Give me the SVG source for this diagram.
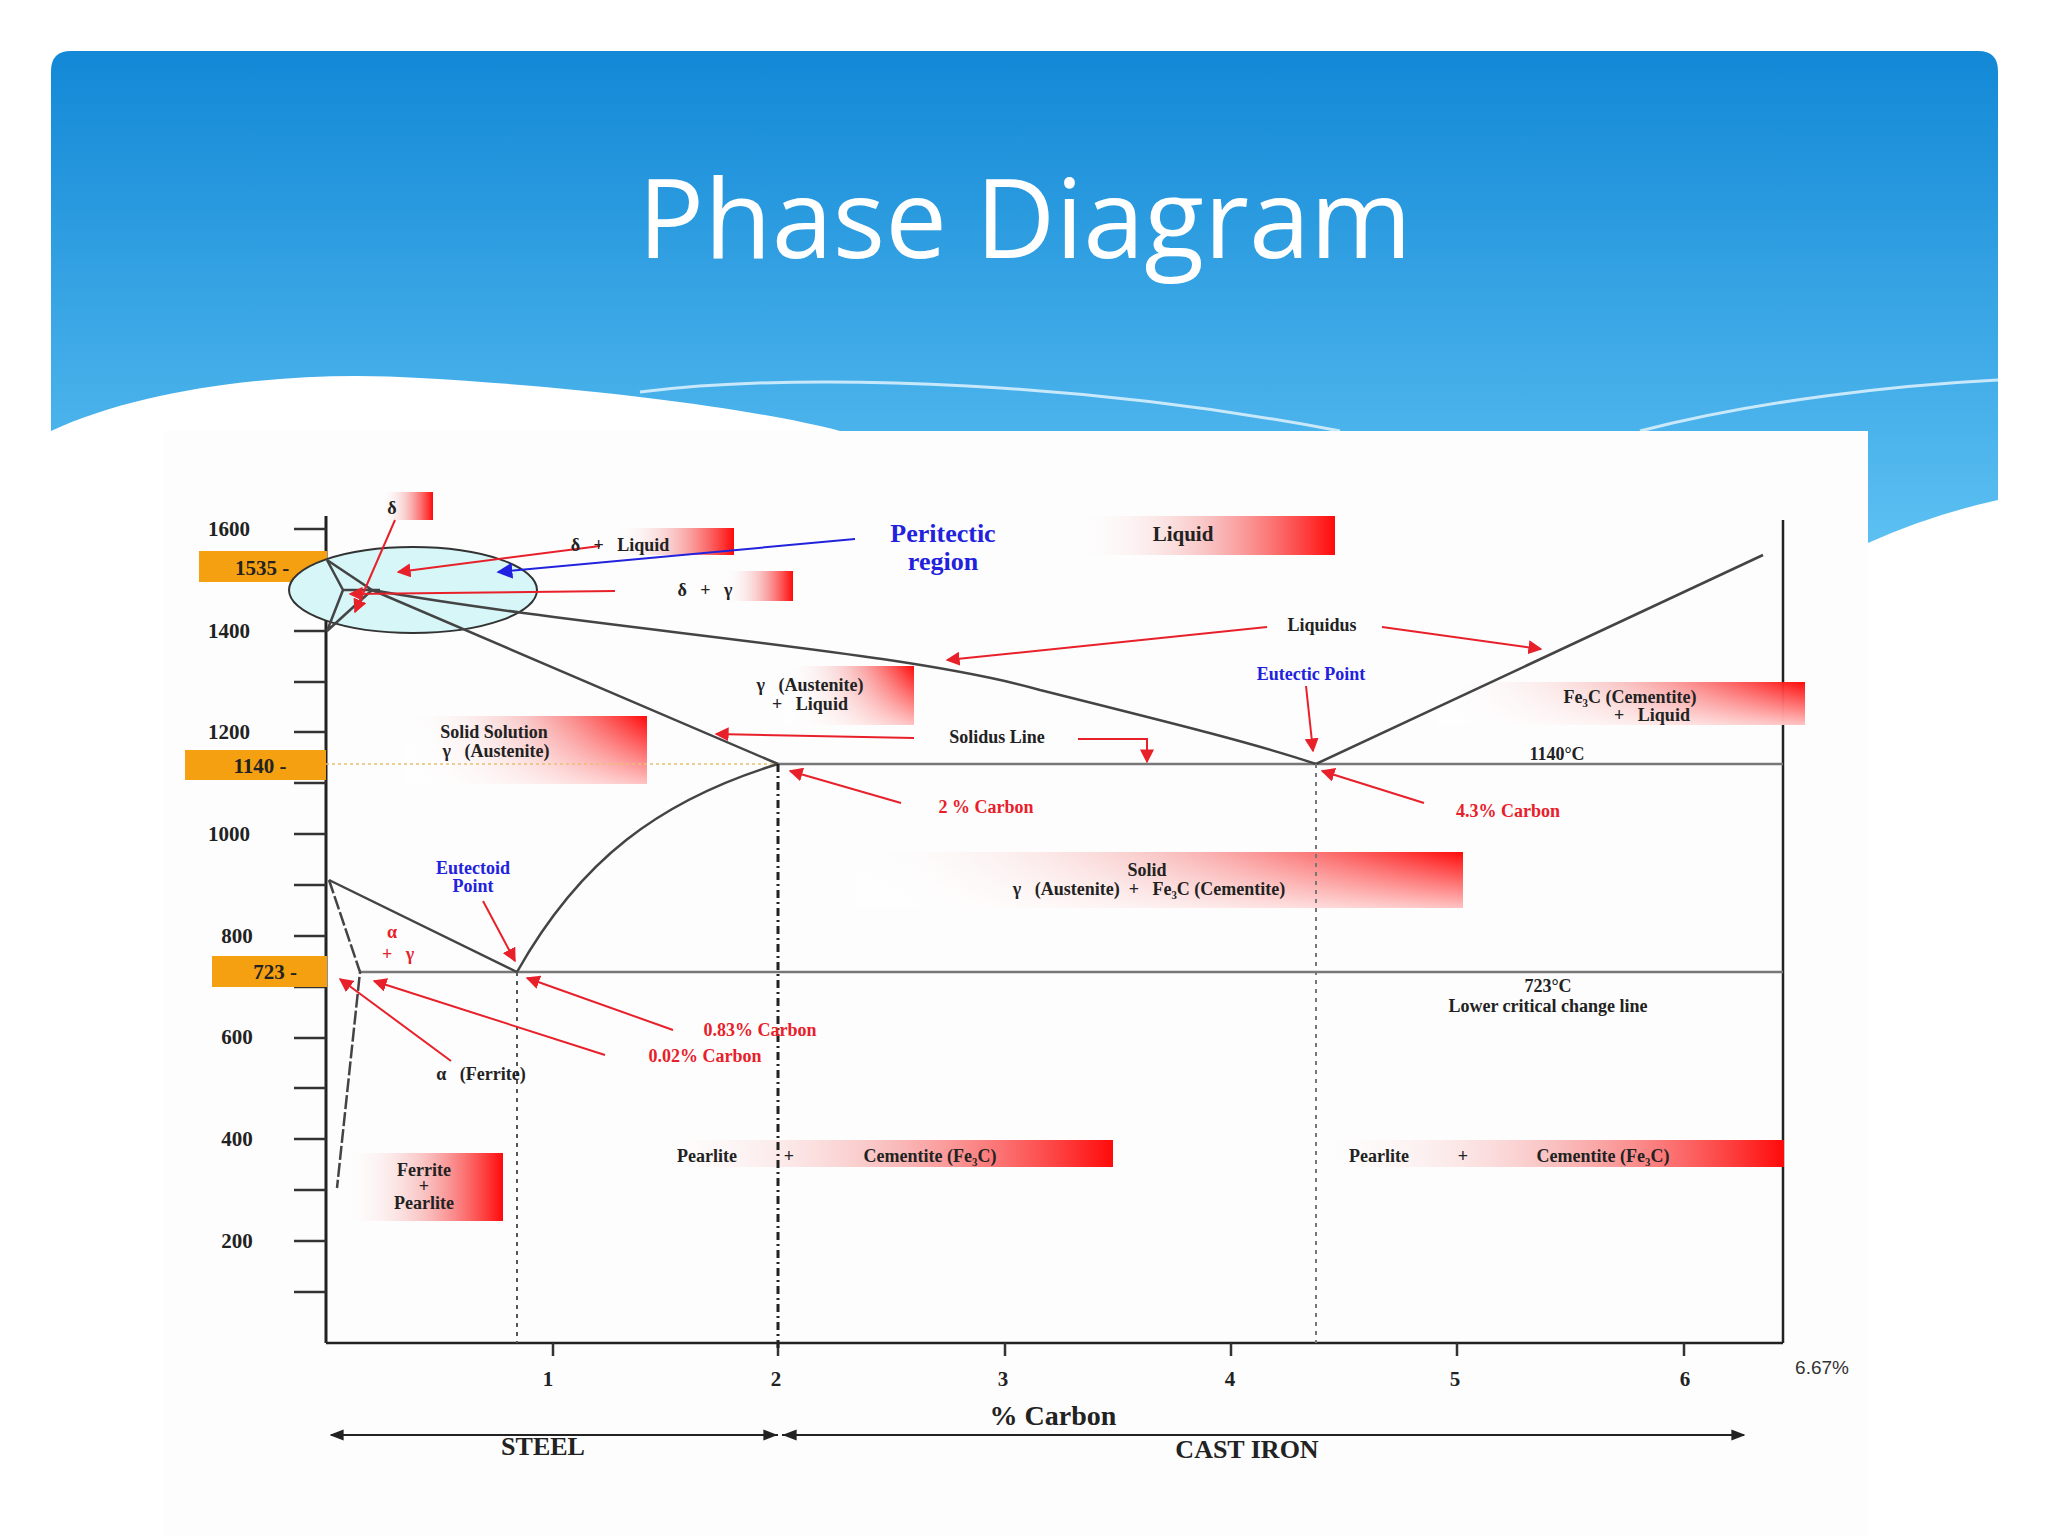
<svg xmlns="http://www.w3.org/2000/svg" width="2048" height="1536" viewBox="0 0 2048 1536">
<defs>
<linearGradient id="band" x1="0" y1="0" x2="0" y2="1"><stop offset="0" stop-color="#1288d6"/><stop offset="1" stop-color="#5cc0f2"/></linearGradient>
<linearGradient id="lab" x1="0" y1="0" x2="1" y2="0"><stop offset="0" stop-color="#ffffff" stop-opacity="0"/><stop offset="0.5" stop-color="#f7a0a0" stop-opacity="0.6"/><stop offset="1" stop-color="#ff0a0a"/></linearGradient>
<linearGradient id="fade" x1="0" y1="0" x2="0" y2="1"><stop offset="0" stop-color="#fff" stop-opacity="0"/><stop offset="1" stop-color="#fff" stop-opacity="0.75"/></linearGradient>
<marker id="ar" viewBox="0 0 10 10" refX="9" refY="5" markerWidth="7" markerHeight="7" orient="auto"><path d="M0,0 L10,5 L0,10 z" fill="#e8202a"/></marker>
<marker id="ab" viewBox="0 0 10 10" refX="9" refY="5" markerWidth="8" markerHeight="8" orient="auto"><path d="M0,0 L10,5 L0,10 z" fill="#2020e0"/></marker>
<marker id="ak" viewBox="0 0 10 10" refX="9" refY="5" markerWidth="7" markerHeight="7" orient="auto"><path d="M0,1 L10,5 L0,9 z" fill="#222"/></marker>
</defs>
<style>
.t{font-family:"Liberation Serif",serif;font-weight:bold;font-size:18px;fill:#222;text-anchor:middle;white-space:pre}
.ax{font-family:"Liberation Serif",serif;font-weight:bold;font-size:21px;fill:#222;text-anchor:middle;white-space:pre}
.r{fill:#e8202a}
.b{fill:#2222dd}
.curve{fill:none;stroke:#444;stroke-width:2.5}
.ra{stroke:#e8202a;stroke-width:2;fill:none;marker-end:url(#ar)}
.tick{stroke:#333;stroke-width:2.5}
.box{fill:url(#lab)}
.orange{fill:#f5a010}
</style>
<rect width="2048" height="1536" fill="#fff"/>
<g id="header">
<path d="M51,431 V71 Q51,51 71,51 H1978 Q1998,51 1998,71 V500 Q1930,515 1868,543 V431 Z" fill="url(#band)"/>
<path d="M51,431 C150,385 300,370 420,378 C600,388 760,410 840,431 Z" fill="#fff"/>
<path d="M640,392 C820,370 1100,385 1340,431" fill="none" stroke="#e8f6ff" stroke-width="3" opacity="0.8"/>
<path d="M1640,431 C1760,400 1900,385 1998,380" fill="none" stroke="#e8f6ff" stroke-width="3" opacity="0.8"/>
<rect x="163" y="431" width="1705" height="1105" fill="#fdfdfd"/>
<text x="1025" y="258" font-family="Open Sans, sans-serif" font-size="110" fill="#fff" text-anchor="middle">Phase Diagram</text>
</g>
<g id="axes">
<line x1="326" y1="516" x2="326" y2="1343" stroke="#222" stroke-width="3"/>
<line x1="326" y1="1343" x2="1783" y2="1343" stroke="#222" stroke-width="2.5"/>
<line x1="1783" y1="520" x2="1783" y2="1343" stroke="#222" stroke-width="2.5"/>
<g class="tick">
<line x1="294" y1="529" x2="326" y2="529"/><line x1="294" y1="580" x2="326" y2="580"/><line x1="294" y1="631" x2="326" y2="631"/><line x1="294" y1="682" x2="326" y2="682"/><line x1="294" y1="732" x2="326" y2="732"/><line x1="294" y1="783" x2="326" y2="783"/><line x1="294" y1="834" x2="326" y2="834"/><line x1="294" y1="885" x2="326" y2="885"/><line x1="294" y1="936" x2="326" y2="936"/><line x1="294" y1="987" x2="326" y2="987"/><line x1="294" y1="1038" x2="326" y2="1038"/><line x1="294" y1="1088" x2="326" y2="1088"/><line x1="294" y1="1139" x2="326" y2="1139"/><line x1="294" y1="1190" x2="326" y2="1190"/><line x1="294" y1="1241" x2="326" y2="1241"/><line x1="294" y1="1292" x2="326" y2="1292"/>
<line x1="553" y1="1343" x2="553" y2="1356"/><line x1="778" y1="1343" x2="778" y2="1356"/><line x1="1005" y1="1343" x2="1005" y2="1356"/><line x1="1231" y1="1343" x2="1231" y2="1356"/><line x1="1457" y1="1343" x2="1457" y2="1356"/><line x1="1684" y1="1343" x2="1684" y2="1356"/>
</g>
<text class="ax" x="229" y="536">1600</text><text class="ax" x="229" y="638">1400</text><text class="ax" x="229" y="739">1200</text><text class="ax" x="229" y="841">1000</text><text class="ax" x="237" y="943">800</text><text class="ax" x="237" y="1044">600</text><text class="ax" x="237" y="1146">400</text><text class="ax" x="237" y="1248">200</text>
<rect class="orange" x="199" y="551" width="128" height="31"/><text class="ax" x="262" y="575" fill="#333">1535 -</text>
<rect class="orange" x="185" y="750" width="141" height="30"/><text class="ax" x="260" y="773">1140 -</text>
<rect class="orange" x="212" y="956" width="115" height="31"/><text class="ax" x="275" y="979">723 -</text>
<text class="ax" x="548" y="1386">1</text><text class="ax" x="776" y="1386">2</text><text class="ax" x="1003" y="1386">3</text><text class="ax" x="1230" y="1386">4</text><text class="ax" x="1455" y="1386">5</text><text class="ax" x="1685" y="1386">6</text>
<text x="1822" y="1374" font-family="Liberation Sans, sans-serif" font-size="19" fill="#333" text-anchor="middle">6.67%</text>
<text class="ax" x="1053" y="1425" style="font-size:28px">% Carbon</text>
<line x1="778" y1="1435" x2="331" y2="1435" stroke="#222" stroke-width="2" marker-end="url(#ak)"/>
<line x1="331" y1="1435" x2="776" y2="1435" stroke="#222" stroke-width="2" marker-end="url(#ak)"/>
<line x1="782" y1="1435" x2="1744" y2="1435" stroke="#222" stroke-width="2" marker-end="url(#ak)"/>
<line x1="1744" y1="1435" x2="784" y2="1435" stroke="#222" stroke-width="2" marker-end="url(#ak)"/>
<text class="ax" x="543" y="1455" style="font-size:26px">STEEL</text>
<text class="ax" x="1247" y="1458" style="font-size:26px">CAST IRON</text>
</g>
<g id="peritectic">
<ellipse cx="413" cy="590" rx="124" ry="43" fill="#d6f6f8" stroke="#333" stroke-width="2"/>
</g>
<g id="label-boxes">
<rect class="box" x="381" y="492" width="52" height="28"/>
<rect class="box" x="614" y="528" width="120" height="27"/>
<rect class="box" x="725" y="571" width="68" height="30"/>
<rect class="box" x="1074" y="516" width="261" height="39"/>
<rect class="box" x="784" y="666" width="130" height="59"/><rect x="784" y="666" width="130" height="59" fill="url(#fade)"/>
<rect class="box" x="405" y="716" width="242" height="68"/><rect x="405" y="716" width="242" height="68" fill="url(#fade)"/>
<rect class="box" x="1437" y="682" width="368" height="43"/><rect x="1437" y="682" width="368" height="43" fill="url(#fade)"/>
<rect class="box" x="855" y="852" width="608" height="56"/><rect x="855" y="852" width="608" height="56" fill="url(#fade)"/>
<rect class="box" x="342" y="1153" width="161" height="68"/>
<rect class="box" x="640" y="1140" width="473" height="27"/>
<rect class="box" x="1306" y="1140" width="478" height="27"/>
</g>
<g id="connectors">
<line x1="326" y1="764" x2="778" y2="764" stroke="#e8c070" stroke-width="1.5" stroke-dasharray="3,3"/>
<line x1="778" y1="764" x2="1783" y2="764" stroke="#777" stroke-width="2.5"/>
<line x1="360" y1="972" x2="1783" y2="972" stroke="#777" stroke-width="2.5"/>
<path class="curve" d="M327,560 L372,590 C600,630 900,650 1040,690 C1180,725 1260,745 1316,764"/>
<path class="curve" d="M1316,764 L1763,555"/>
<path class="curve" d="M372,590 L778,764"/>
<path class="curve" d="M327,560 L343,590 L327,631 L372,590"/>
<path class="curve" d="M343,590 L380,590"/>
<path class="curve" d="M329,880 L517,972"/>
<path class="curve" d="M517,972 C580,860 660,800 778,764"/>
<path class="curve" d="M329,880 L360,972 L337,1188" stroke-dasharray="14,3"/>
<line x1="517" y1="972" x2="517" y2="1343" stroke="#555" stroke-width="2" stroke-dasharray="4,5"/>
<line x1="778" y1="764" x2="778" y2="1350" stroke="#222" stroke-width="3" stroke-dasharray="8,4,2,4"/>
<line x1="1316" y1="764" x2="1316" y2="1343" stroke="#777" stroke-width="2" stroke-dasharray="4,5"/>
<line x1="855" y1="539" x2="498" y2="572" stroke="#2222dd" stroke-width="2" marker-end="url(#ab)"/>
<line x1="395" y1="520" x2="355" y2="612" class="ra"/>
<line x1="600" y1="546" x2="398" y2="572" class="ra"/>
<line x1="615" y1="591" x2="350" y2="594" class="ra"/>
<line x1="914" y1="738" x2="716" y2="734" class="ra"/>
<path d="M1078,739 H1147 V762" class="ra"/>
<line x1="1267" y1="627" x2="947" y2="660" class="ra"/>
<line x1="1382" y1="627" x2="1541" y2="649" class="ra"/>
<line x1="1306" y1="686" x2="1313" y2="751" class="ra"/>
<line x1="901" y1="803" x2="790" y2="771" class="ra"/>
<line x1="1424" y1="803" x2="1322" y2="771" class="ra"/>
<line x1="483" y1="901" x2="515" y2="961" class="ra"/>
<line x1="673" y1="1030" x2="527" y2="978" class="ra"/>
<line x1="605" y1="1055" x2="374" y2="981" class="ra"/>
<line x1="451" y1="1061" x2="340" y2="979" class="ra"/>
</g>
<g id="labels">
<text class="t" x="392" y="514">δ</text>
<text class="t" x="620" y="551">δ   +   Liquid</text>
<text class="t" x="705" y="596">δ   +   γ</text>
<text class="t" x="1183" y="541" style="font-size:21px">Liquid</text>
<text class="t b" x="943" y="542" style="font-size:26px">Peritectic</text>
<text class="t b" x="943" y="570" style="font-size:26px">region</text>
<text class="t" x="810" y="691">γ   (Austenite)</text>
<text class="t" x="810" y="710">+   Liquid</text>
<text class="t" x="494" y="738">Solid Solution</text>
<text class="t" x="496" y="757">γ   (Austenite)</text>
<text class="t" x="997" y="743">Solidus Line</text>
<text class="t" x="1322" y="631">Liquidus</text>
<text class="t b" x="1311" y="680">Eutectic Point</text>
<text class="t" x="1630" y="703">Fe₃C (Cementite)</text>
<text class="t" x="1652" y="721">+   Liquid</text>
<text class="t" x="1557" y="760">1140°C</text>
<text class="t r" x="986" y="813">2 % Carbon</text>
<text class="t r" x="1508" y="817">4.3% Carbon</text>
<text class="t" x="1147" y="876">Solid</text>
<text class="t" x="1149" y="895">γ   (Austenite)  +   Fe₃C (Cementite)</text>
<text class="t b" x="473" y="874">Eutectoid</text>
<text class="t b" x="473" y="892">Point</text>
<text class="t r" x="392" y="938">α</text>
<text class="t r" x="398" y="960">+   γ</text>
<text class="t r" x="760" y="1036">0.83% Carbon</text>
<text class="t r" x="705" y="1062">0.02% Carbon</text>
<text class="t" x="481" y="1080">α   (Ferrite)</text>
<text class="t" x="424" y="1176">Ferrite</text>
<text class="t" x="424" y="1192">+</text>
<text class="t" x="424" y="1209">Pearlite</text>
<text class="t" x="707" y="1162">Pearlite</text><text class="t" x="789" y="1162">+</text><text class="t" x="930" y="1162">Cementite (Fe₃C)</text>
<text class="t" x="1379" y="1162">Pearlite</text><text class="t" x="1463" y="1162">+</text><text class="t" x="1603" y="1162">Cementite (Fe₃C)</text>
<text class="t" x="1548" y="992">723°C</text>
<text class="t" x="1548" y="1012">Lower critical change line</text>
</g>
</svg>
